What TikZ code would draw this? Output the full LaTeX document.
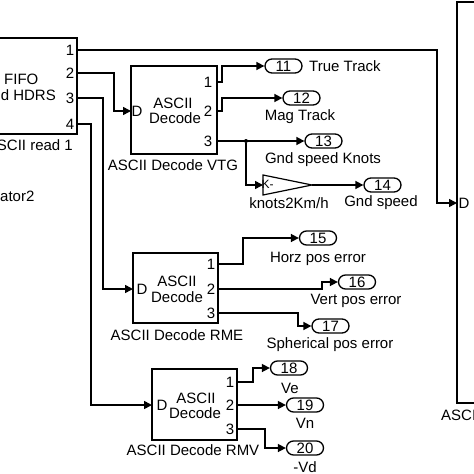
\documentclass[tikz,border=0pt]{standalone}
\usepackage{fontspec}
\setmainfont{Liberation Sans}
\usetikzlibrary{arrows.meta}
\begin{document}
\begin{tikzpicture}[x=1pt,y=-1pt,
  wire/.style={line width=1.6pt},
  sig/.style={wire,-{Triangle[length=8pt,width=8pt]}},
  blk/.style={draw,line width=1.6pt,rectangle,inner sep=0pt},
  outp/.style={draw,line width=1.3pt,rounded corners=7pt,minimum width=37pt,minimum height=14pt,inner sep=0pt,font=\fontsize{15}{15}\selectfont},
  txt/.style={inner sep=0pt,font=\fontsize{15}{17}\selectfont},
  dot/.style={circle,fill,inner sep=0pt,minimum size=4pt}]
\useasboundingbox (0,0) rectangle (474,474);
\clip (0,0) rectangle (474,474);

% ---- read block
\node[blk,minimum width=120pt,minimum height=96pt] (rd) at (17,86) {};
\node[txt,anchor=west] (rdl1) at (4,79) {FIFO};
\node[txt,anchor=east] (rdl2) at (56,95) {d HDRS};
\node[txt,anchor=east] (rdname) at (73,145) {ASCII read 1};
\node[txt,anchor=west] (integ) at (0,196) {ator2};
\foreach \i/\y in {1/50,2/73,3/98,4/124}{
  \node[txt] (rdp\i) at (70,\y) {\i};
  \coordinate (r\i) at (77,\y);
}

% ---- big block on the right
\node[blk,minimum width=60pt,minimum height=401pt] (big) at (487,202.5) {};
\node[txt] (bigD) at (464,203) {D};
\coordinate (bigin) at (457,203);
\node[txt,anchor=west] (bigname) at (441,415) {ASCII};

% ---- ASCII Decode VTG
\node[blk,minimum width=86pt,minimum height=88pt] (vtg) at (174,110) {};
\node[txt] (vtgD) at (137,111) {D};
\node[txt] (vtga) at (173,103) {ASCII};
\node[txt] (vtgb) at (175,118) {Decode};
\node[txt] (vtgname) at (173,165) {ASCII Decode VTG};
\coordinate (vtgin) at (131,111);
\foreach \i/\y in {1/82,2/111,3/141}{
  \node[txt] (vtgp\i) at (208,\y) {\i};
  \coordinate (v\i) at (217,\y);
}

% ---- ASCII Decode RME
\node[blk,minimum width=85pt,minimum height=70pt] (rme) at (175.5,288) {};
\node[txt] (rmeD) at (142,289) {D};
\node[txt] (rmea) at (177,281) {ASCII};
\node[txt] (rmeb) at (177,297) {Decode};
\node[txt] (rmename) at (177,335) {ASCII Decode RME};
\coordinate (rmein) at (133,289);
\foreach \i/\y in {1/264,2/289,3/313}{
  \node[txt] (rmep\i) at (211,\y) {\i};
  \coordinate (m\i) at (218,\y);
}

% ---- ASCII Decode RMV
\node[blk,minimum width=85pt,minimum height=71pt] (rmv) at (194.5,404.5) {};
\node[txt] (rmvD) at (162,405) {D};
\node[txt] (rmva) at (196,398) {ASCII};
\node[txt] (rmvb) at (195,413) {Decode};
\node[txt] (rmvname) at (193,450) {ASCII Decode RMV};
\coordinate (rmvin) at (152,405);
\foreach \i/\y in {1/382,2/405,3/429}{
  \node[txt] (rmvp\i) at (230,\y) {\i};
  \coordinate (w\i) at (237,\y);
}

% ---- gain
\draw[wire,line width=1.2pt] (263,175) -- (312,185) -- (263,195) -- cycle;
\node[inner sep=0pt,anchor=west,font=\fontsize{12}{12}\selectfont] (gaintxt) at (261.5,184.5) {K-};
\coordinate (gainin) at (263,185);
\coordinate (gainout) at (312,185);
\node[txt] (gainname) at (289,203) {knots2Km/h};

% ---- outports
\node[outp] (o11) at (283.5,66) {11};
\node[outp] (o12) at (301.5,98) {12};
\node[outp] (o13) at (323.5,141) {13};
\node[outp] (o14) at (382.5,185) {14};
\node[outp] (o15) at (318,238) {15};
\node[outp] (o16) at (357,282) {16};
\node[outp] (o17) at (330.5,326) {17};
\node[outp] (o18) at (289,368) {18};
\node[outp] (o19) at (305,405) {19};
\node[outp] (o20) at (305,448) {20};

\node[txt,anchor=west] (l11) at (309,66) {True Track};
\node[txt] (l12) at (300,117) {Mag Track};
\node[txt] (l13) at (323,160) {Gnd speed Knots};
\node[txt] (l14) at (381,203) {Gnd speed};
\node[txt] (l15) at (318,259) {Horz pos error};
\node[txt] (l16) at (356,301) {Vert pos error};
\node[txt] (l17) at (330,345) {Spherical pos error};
\node[txt] (l18) at (290,388) {Ve};
\node[txt] (l19) at (305,423) {Vn};
\node[txt] (l20) at (305,467) {-Vd};

% ---- connectors from read block
\draw[sig] (r1) -- (437,50) |- (bigin);
\draw[sig] (r2) -- (114,73) |- (vtgin);
\draw[sig] (r3) -- (103,98) |- (rmein);
\draw[sig] (r4) -- (91,124) |- (rmvin);

% ---- VTG outputs
\draw[sig] (v1) -- (222,82) |- (o11.west);
\draw[sig] (v2) -- (222,111) |- (o12.west);
\draw[sig] (v3) -- (o13.west);
\node[dot] (br) at (246,141) {};
\draw[sig] (br) |- (gainin);
\draw[sig] (gainout) -- (o14.west);

% ---- RME outputs
\draw[sig] (m1) -- (243,264) |- (o15.west);
\draw[sig] (m2) -- (322,289) |- (o16.west);
\draw[sig] (m3) -- (298,313) |- (o17.west);

% ---- RMV outputs
\draw[sig] (w1) -- (253,382) |- (o18.west);
\draw[sig] (w2) -- (o19.west);
\draw[sig] (w3) -- (265,429) |- (o20.west);
\end{tikzpicture}
\end{document}
